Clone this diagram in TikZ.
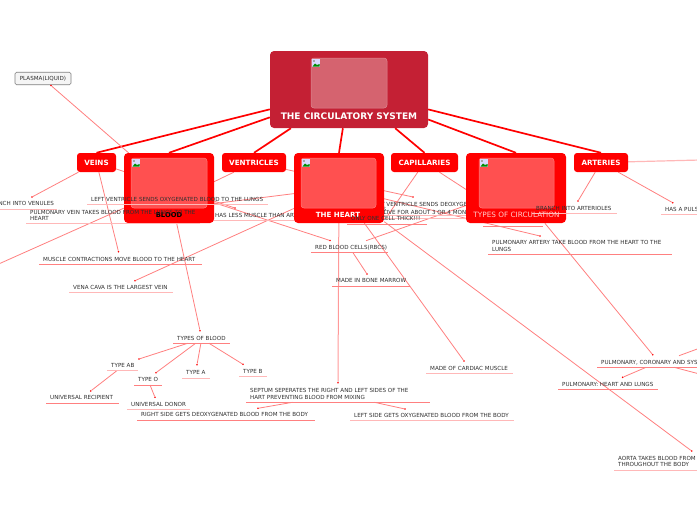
\documentclass[tikz,border=0pt]{standalone}
\usepackage{fontspec}
\setmainfont{DejaVu Sans}
\usetikzlibrary{backgrounds}
\definecolor{rootred}{HTML}{C42034}
\definecolor{rootin}{HTML}{D5636F}
\definecolor{rootedge}{HTML}{DD8A93}
\definecolor{hot}{HTML}{FF0000}
\definecolor{hotin}{HTML}{FF5050}
\definecolor{hotedge}{HTML}{FF7A7A}
\definecolor{midline}{HTML}{FF8080}
\definecolor{paleline}{HTML}{FFB8B8}
\definecolor{inktext}{HTML}{303030}
\tikzset{
  x=1pt,y=-1pt,
  bigbox/.style={fill=hot,rounded corners=4pt,inner sep=0pt},
  rootbox/.style={fill=rootred,rounded corners=4pt,inner sep=0pt},
  innerbox/.style={fill=hotin,draw=hotedge,line width=.5pt,rounded corners=3pt,inner sep=0pt},
  rootinner/.style={fill=rootin,draw=rootedge,line width=.5pt,rounded corners=3pt,inner sep=0pt},
  topic/.style={fill=hot,rounded corners=3pt,inner sep=0pt,text=white,font=\fontsize{7.2}{8}\selectfont\bfseries,minimum height=19pt},
  leafnode/.style={inner xsep=4pt,inner ysep=1.2pt,anchor=south west,text=inktext,font=\fontsize{5.6}{6.3}\selectfont},
  tipdot/.style={circle,fill=hot,inner sep=0pt,minimum size=1.8pt},
  conn/.style={draw=midline,line width=.8pt},
  trunk/.style={draw=hot,line width=1.7pt},
  bar/.style={line width=1pt},
}
\newcommand{\leaf}[6]{%
  \pgfmathsetmacro{\wout}{#3-(#2)}\pgfmathsetmacro{\win}{\wout-8}%
  \node[leafnode,minimum width=\wout pt] (#1) at (#2,#4)
    {\makebox[\win pt][l]{\begin{tabular}{@{}l@{}}#6\end{tabular}}};
  \draw[bar,draw=#5] (#1.south west) -- (#1.south east);}
\newcommand{\tip}[3]{\node[tipdot] (#1) at (#2,#3) {};}
\newcommand{\brokenimg}[2]{%
  \fill[white!85!blue] (#1,#2) rectangle ++(7.5,7.5);
  \fill[green!55!black] (#1+.5,#2+7.5) -- (#1+3,#2+4.5) -- (#1+5,#2+6) -- (#1+7.5,#2+5) -- (#1+7.5,#2+7.5) -- cycle;
  \fill[gray!70] (#1+.5,#2+.5) rectangle ++(2.5,2.5);}
\begin{document}
\begin{tikzpicture}
\useasboundingbox (0,0) rectangle (697,520);

% leaves that lie under the big boxes
\leaf{lessmuscle}{211}{319}{220.5}{paleline}{HAS LESS MUSCLE THAN ARTERIES}
\leaf{rightvent}{363}{532}{215}{paleline}{RIGHT VENTRICLE SENDS DEOXYGENATED BLOOD TO THE\\[-.6pt]LUNGS.}
\leaf{rbclife}{363}{480}{218}{paleline}{THEY LIVE FOR ABOUT 3 OR 4 MONTHS}

% root
\node[rootbox,minimum width=158pt,minimum height=77pt] (root) at (349,89.5) {};
\node[rootinner,minimum width=76pt,minimum height=50pt] (rootpic) at (349,83) {};
\brokenimg{312}{59}
\node[text=white,font=\fontsize{9}{10}\selectfont\bfseries,inner sep=0pt] (roottitle) at (349,116) {THE CIRCULATORY SYSTEM};

% big topics
\node[bigbox,minimum width=90pt,minimum height=70pt] (blood) at (169,188) {};
\node[innerbox,minimum width=76pt,minimum height=50pt] (bloodpic) at (169,183) {};
\brokenimg{132}{159}
\node[text=black,font=\fontsize{6.8}{7}\selectfont\bfseries,inner sep=0pt] (bloodlabel) at (169,215) {BLOOD};

\node[bigbox,minimum width=90pt,minimum height=70pt] (heart) at (339,188) {};
\node[innerbox,minimum width=75pt,minimum height=50pt] (heartpic) at (338.5,183) {};
\brokenimg{302}{159}
\node[text=white,font=\fontsize{7.1}{8}\selectfont\bfseries,inner sep=0pt] (heartlabel) at (338,215) {THE HEART};

\node[bigbox,minimum width=100pt,minimum height=70pt] (types) at (516,188) {};
\node[innerbox,minimum width=75pt,minimum height=50pt] (typespic) at (516.5,183) {};
\brokenimg{480}{159}
\node[text=white!80!hot,font=\fontsize{7.3}{8}\selectfont,inner sep=0pt] (typeslabel) at (516.5,215) {TYPES OF CIRCULATION};

% small topics
\node[topic,minimum width=39pt] (veins) at (96.5,162.5) {VEINS};
\node[topic,minimum width=64pt] (ventricles) at (254,162.5) {VENTRICLES};
\node[topic,minimum width=67pt] (capillaries) at (424.5,162.5) {CAPILLARIES};
\node[topic,minimum width=54pt] (arteries) at (601,162.5) {ARTERIES};

% boxed floating topic
\node[draw=gray,fill=gray!8,line width=.6pt,rounded corners=1.5pt,inner sep=0pt,minimum width=56pt,minimum height=12.5pt,text=inktext,font=\fontsize{5.6}{6}\selectfont] (plasma) at (43,78.5) {PLASMA(LIQUID)};

% leaves above the big boxes
\leaf{venules}{-17}{57}{209}{paleline}{BRANCH INTO VENULES}
\leaf{leftvent}{87}{268}{204.7}{paleline}{LEFT VENTRICLE SENDS OXYGENATED BLOOD TO THE LUNGS}
\leaf{pulmvein}{26}{200}{223.7}{paleline}{PULMONARY VEIN TAKES BLOOD FROM THE LUNGS TO THE\\[-.6pt]HEART}
\leaf{muscle}{39}{202}{264.3}{midline}{MUSCLE CONTRACTIONS MOVE BLOOD TO THE HEART}
\leaf{venacava}{69}{173}{292.7}{paleline}{VENA CAVA IS THE LARGEST VEIN}
\leaf{rbc}{311}{388}{252.3}{midline}{RED BLOOD CELLS(RBCS)}
\leaf{marrow}{332}{410}{286}{midline}{MADE IN BONE MARROW}
\leaf{onecell}{347}{427}{224}{midline}{ONLY ONE CELL THICK!!!}
\leaf{arterioles}{532}{617}{213.7}{paleline}{BRANCH INTO ARTERIOLES}
\leaf{pulse}{661}{720}{214.7}{paleline}{HAS A PULSE}
\leaf{pulmartery}{488}{672}{254.5}{midline}{PULMONARY ARTERY TAKE BLOOD FROM THE HEART TO THE\\[.6pt]LUNGS}
\leaf{bloodtypes}{173}{230}{343.3}{midline}{TYPES OF BLOOD}
\leaf{typeab}{107}{138}{370.7}{paleline}{TYPE AB}
\leaf{typeo}{134}{162}{385}{midline}{TYPE O}
\leaf{typea}{182}{210}{378}{paleline}{TYPE A}
\leaf{typeb}{239}{267}{376.7}{paleline}{TYPE B}
\leaf{recipient}{46}{119}{403}{midline}{UNIVERSAL RECIPIENT}
\leaf{donor}{127}{190}{409.7}{paleline}{UNIVERSAL DONOR}
\leaf{septum}{246}{430}{402.3}{midline}{SEPTUM SEPERATES THE RIGHT AND LEFT SIDES OF THE\\[.5pt]HART PREVENTING BLOOD FROM MIXING}
\leaf{rightside}{137}{315}{420}{midline}{RIGHT SIDE GETS DEOXYGENATED BLOOD FROM THE BODY}
\leaf{leftside}{350}{514}{420.7}{paleline}{LEFT SIDE GETS OXYGENATED BLOOD FROM THE BODY}
\leaf{cardiac}{426}{513}{373.7}{paleline}{MADE OF CARDIAC MUSCLE}
\leaf{circtypes}{597}{716}{367.3}{midline}{PULMONARY, CORONARY AND SYSTEMIC}
\leaf{pulmonary}{558}{658}{389.3}{midline}{PULMONARY: HEART AND LUNGS}
\leaf{aorta}{614}{740}{470}{paleline}{AORTA TAKES BLOOD FROM THE HEART TO\\[-.4pt]THROUGHOUT THE BODY}

% connector ends
\tip{tvenules}{32}{197}
\tip{tmuscle}{118.5}{251.7}
\tip{tvenacava}{135}{280.7}
\tip{tlessmuscle}{235}{208}
\tip{trbc}{330}{240.5}
\tip{tmarrow}{367}{274}
\tip{tright}{413}{197}
\tip{tarterioles}{578}{201}
\tip{tpulse}{672.7}{202.7}
\tip{tpulmartery}{540}{236}
\tip{tplasma}{51}{85.5}
\tip{tbloodtypes}{200}{330.7}
\tip{tab}{139}{359}
\tip{to}{156}{372.7}
\tip{ta}{197}{364.7}
\tip{tb}{243}{364.3}
\tip{trecipient}{90.7}{391}
\tip{tdonor}{155}{397.3}
\tip{tseptum}{338}{382.7}
\tip{trightside}{258}{408.3}
\tip{tleftside}{405}{409}
\tip{tcardiac}{464}{361}
\tip{taorta}{691.7}{451}
\tip{tcirc}{652.7}{354.7}
\tip{tpulmonary}{622.7}{377.3}
\coordinate (offpv) at (-50,285.7);
\coordinate (hidlv) at (185,195.7);
\coordinate (hidheart) at (190,206.6);
\coordinate (hidone) at (388,215);
\coordinate (hidcap) at (490,205);
\coordinate (rbcend) at (366,240.7);
\coordinate (offart) at (760,158.5);
\coordinate (offa) at (730,337);
\coordinate (offb) at (730,382);
\coordinate (hidlineA) at (483,226);
\coordinate (hidlineB) at (543,226);
\coordinate (offaend) at (679,355.7);

\begin{scope}[on background layer]
  \fill[white] (0,0) rectangle (697,520);
  \draw[trunk] (root) -- (veins.north);
  \draw[trunk] (root) -- (blood.north);
  \draw[trunk] (root) -- (ventricles.north);
  \draw[trunk] (root) -- (heart.north);
  \draw[trunk] (root) -- (capillaries.north);
  \draw[trunk] (root) -- (types.north);
  \draw[trunk] (root) -- (arteries.north);

  \draw[conn] (blood) -- (tplasma);
  \draw[conn] (blood) -- (offpv);
  \draw[conn] (blood) -- (trbc);
  \draw[conn] (blood) -- (tbloodtypes);
  \draw[conn] (veins) -- (tvenules);
  \draw[conn] (veins) -- (tmuscle);
  \draw[conn] (veins) -- (tlessmuscle);
  \draw[conn] (ventricles) -- (hidlv);
  \draw[conn] (ventricles) -- (tright);
  \draw[conn] (heart) -- (hidheart);
  \draw[conn] (heart) -- (tvenacava);
  \draw[draw=midline!80!white,line width=1pt] (heart) -- (tseptum);
  \draw[conn] (heart) -- (tcardiac);
  \draw[conn] (heart) -- (taorta);
  \draw[conn] (heart) -- (tpulmartery);
  \draw[conn] (capillaries) -- (hidone);
  \draw[conn] (capillaries) -- (hidcap);
  \draw[conn] (types) -- (rbcend);
  \draw[conn] (types) -- (tcirc);
  \draw[conn] (arteries) -- (tarterioles);
  \draw[conn] (arteries) -- (tpulse);
  \draw[draw=paleline,line width=1.2pt] (arteries) -- (offart);
  \draw[bar,draw=midline] (hidlineA) -- (hidlineB);
  \draw[conn] (rbc) -- (tmarrow);
  \draw[conn] (bloodtypes) -- (tab);
  \draw[conn] (bloodtypes) -- (to);
  \draw[conn] (bloodtypes) -- (ta);
  \draw[conn] (bloodtypes) -- (tb);
  \draw[conn] (typeab) -- (trecipient);
  \draw[conn] (typeo) -- (tdonor);
  \draw[conn] (septum) -- (trightside);
  \draw[conn] (septum) -- (tleftside);
  \draw[conn] (circtypes) -- (tpulmonary);
  \draw[conn] (circtypes) -- (offb);
  \draw[conn] (offa) -- (offaend);
\end{scope}
\end{tikzpicture}
\end{document}
